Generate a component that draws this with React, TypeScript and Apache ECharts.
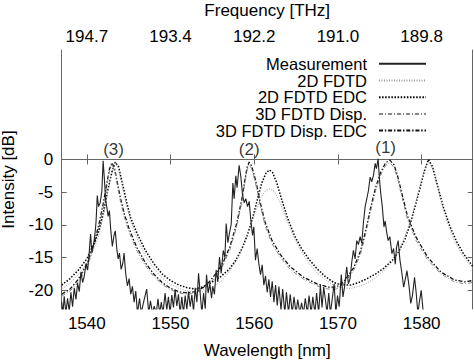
import React, { useEffect, useRef } from "react";
import * as echarts from "echarts";

const seriesNames = [
  "Measurement",
  "2D FDTD",
  "2D FDTD EDC",
  "3D FDTD Disp.",
  "3D FDTD Disp. EDC",
];

const wavelengthTicks = [1540, 1550, 1560, 1570, 1580];
const frequencyLabels = ["194.7", "193.4", "192.2", "191.0", "189.8"];
const intensityTicks = [-20, -15, -10, -5, 0];

const peakLabels = [
  { name: "(3)", value: [1543.2, 1.6] },
  { name: "(2)", value: [1559.4, 1.6] },
  { name: "(1)", value: [1575.7, 1.8] },
];

const measurement = [
  [1537.0, -21.8], [1537.15, -23.5], [1537.3, -20.9], [1537.5, -23.5], [1537.7, -21.2],
  [1537.9, -23.2], [1538.1, -20.3], [1538.3, -22.5], [1538.5, -19.6], [1538.7, -21.4],
  [1538.9, -18.9], [1539.1, -20.2], [1539.3, -17.2], [1539.5, -18.8], [1539.7, -17.8],
  [1539.9, -15.9], [1540.1, -16.9], [1540.3, -14.0], [1540.45, -11.4], [1540.6, -14.2],
  [1540.8, -13.1], [1541.0, -11.0], [1541.1, -9.6], [1541.25, -5.5], [1541.4, -7.2],
  [1541.6, -6.6], [1541.8, -4.8], [1541.95, -0.2], [1542.1, -3.0], [1542.25, -6.2],
  [1542.4, -7.4], [1542.55, -8.7], [1542.7, -7.8], [1542.85, -10.6], [1543.05, -13.3],
  [1543.25, -11.6], [1543.4, -10.9], [1543.6, -13.9], [1543.75, -15.2], [1543.9, -14.3],
  [1544.1, -16.8], [1544.3, -15.9], [1544.45, -14.3], [1544.65, -17.5], [1544.85, -19.3],
  [1545.05, -18.2], [1545.25, -20.6], [1545.45, -19.4], [1545.65, -21.8], [1545.85, -20.1],
  [1546.05, -23.5], [1546.3, -21.2], [1546.5, -23.5], [1546.75, -22.0], [1547.15, -19.8],
  [1547.4, -23.5], [1547.6, -21.6], [1547.85, -23.5], [1548.05, -22.4], [1548.3, -23.5],
  [1548.5, -21.3], [1548.7, -23.5], [1548.9, -21.8], [1549.1, -23.5], [1549.35, -20.4],
  [1549.55, -23.0], [1549.75, -21.0], [1549.95, -23.5], [1550.15, -20.7], [1550.35, -22.6],
  [1550.55, -19.9], [1550.75, -22.4], [1550.95, -20.6], [1551.15, -23.5], [1551.35, -21.0],
  [1551.55, -23.5], [1551.75, -20.8], [1551.95, -22.9], [1552.15, -20.2], [1552.35, -22.5],
  [1552.55, -20.7], [1552.75, -23.2], [1552.95, -19.6], [1553.15, -21.8], [1553.35, -17.4],
  [1553.55, -20.6], [1553.75, -23.5], [1553.95, -20.4], [1554.15, -22.8], [1554.3, -17.6],
  [1554.5, -20.4], [1554.7, -19.0], [1554.9, -21.2], [1555.05, -19.4], [1555.25, -20.6],
  [1555.45, -16.9], [1555.65, -18.7], [1555.85, -14.9], [1556.05, -17.4], [1556.3, -13.9],
  [1556.5, -15.0], [1556.65, -9.8], [1556.85, -12.7], [1557.05, -11.2], [1557.25, -9.9],
  [1557.45, -3.6], [1557.6, -6.0], [1557.8, -2.5], [1557.95, -4.3], [1558.2, -0.9],
  [1558.4, -2.6], [1558.6, -5.4], [1558.8, -6.6], [1559.0, -6.0], [1559.2, -7.2],
  [1559.4, -6.4], [1559.6, -9.4], [1559.8, -11.6], [1559.95, -10.3], [1560.15, -15.4],
  [1560.35, -13.6], [1560.55, -15.9], [1560.75, -17.6], [1560.95, -16.1], [1561.15, -19.2],
  [1561.35, -17.8], [1561.55, -20.3], [1561.75, -18.3], [1561.95, -21.0], [1562.15, -18.6],
  [1562.35, -21.8], [1562.55, -19.2], [1562.75, -22.3], [1562.95, -19.4], [1563.2, -23.0],
  [1563.4, -19.8], [1563.65, -23.5], [1563.85, -20.3], [1564.1, -23.5], [1564.3, -20.6],
  [1564.55, -23.5], [1564.75, -21.0], [1565.0, -23.5], [1565.2, -21.4], [1565.45, -23.5],
  [1565.65, -21.9], [1565.9, -23.5], [1566.1, -21.2], [1566.35, -23.5], [1566.55, -20.8],
  [1566.8, -23.5], [1567.0, -21.0], [1567.25, -23.5], [1567.45, -20.4], [1567.7, -23.5],
  [1567.9, -19.2], [1568.1, -22.6], [1568.3, -19.5], [1568.5, -21.4], [1568.7, -23.5],
  [1568.9, -20.4], [1569.1, -23.5], [1569.35, -21.0], [1569.55, -19.0], [1569.75, -23.5],
  [1569.95, -20.8], [1570.15, -22.5], [1570.4, -17.6], [1570.6, -21.0], [1570.8, -19.4],
  [1571.05, -16.4], [1571.25, -19.0], [1571.45, -18.2], [1571.65, -15.7], [1571.85, -13.9],
  [1572.05, -15.2], [1572.25, -12.4], [1572.45, -13.0], [1572.65, -11.8], [1572.85, -12.8],
  [1573.05, -9.6], [1573.25, -7.2], [1573.45, -6.0], [1573.65, -4.7], [1573.85, -2.7],
  [1574.05, -3.4], [1574.25, -2.4], [1574.45, -0.6], [1574.6, -1.4], [1574.8, 0.1],
  [1574.95, -2.8], [1575.1, -5.0], [1575.3, -7.2], [1575.5, -10.3], [1575.65, -9.4],
  [1575.8, -10.9], [1576.0, -12.4], [1576.2, -11.8], [1576.45, -14.4], [1576.65, -13.6],
  [1576.85, -16.0], [1577.0, -13.4], [1577.2, -12.4], [1577.4, -15.3], [1577.6, -17.0],
  [1577.85, -19.5], [1578.05, -18.3], [1578.25, -17.0], [1578.5, -19.4], [1578.7, -22.0],
  [1578.9, -20.8], [1579.15, -18.0], [1579.35, -20.4], [1579.55, -23.5], [1579.75, -21.6],
  [1579.95, -20.0], [1580.15, -22.8], [1580.3, -23.5],
];

const fdtd2d = [
  [1537.0, -19.8], [1538.0, -18.9], [1539.0, -17.6], [1540.0, -15.9], [1541.0, -13.2],
  [1541.5, -11.3], [1542.0, -8.6], [1542.5, -5.0], [1543.0, -2.0], [1543.35, -0.6],
  [1543.7, -1.2], [1544.1, -3.3], [1544.6, -6.3], [1545.2, -9.3], [1546.0, -12.0],
  [1547.0, -14.7], [1548.0, -16.7], [1549.0, -18.1], [1550.0, -19.1], [1551.0, -19.7],
  [1552.0, -20.1], [1553.0, -20.3], [1554.0, -20.2], [1555.0, -19.6], [1556.0, -18.6],
  [1557.0, -17.2], [1558.0, -15.2], [1558.8, -13.0], [1559.5, -10.5], [1560.2, -7.8],
  [1560.8, -5.8], [1561.4, -4.7], [1561.9, -4.5], [1562.4, -4.9], [1563.0, -6.3],
  [1563.7, -8.6], [1564.5, -11.2], [1565.5, -13.8], [1566.5, -15.8], [1567.5, -17.3],
  [1568.5, -18.4], [1569.5, -19.2], [1570.5, -19.6], [1571.5, -19.7], [1572.5, -19.4],
  [1573.5, -18.9], [1574.5, -18.1], [1575.5, -17.0], [1576.5, -15.6], [1577.3, -13.9],
  [1578.0, -11.8], [1578.7, -9.2], [1579.3, -6.5], [1579.9, -3.6], [1580.4, -1.3],
  [1580.85, -0.4], [1581.3, -1.4], [1581.8, -3.8], [1582.4, -6.8], [1583.1, -9.8],
  [1583.9, -12.4], [1584.8, -14.5], [1585.6, -15.9], [1586.2, -16.8],
];

const fdtd2dEdc = [
  [1537.0, -19.2], [1538.0, -18.2], [1539.0, -16.9], [1540.0, -15.2], [1541.0, -12.4],
  [1541.5, -10.6], [1542.0, -8.0], [1542.5, -4.7], [1543.0, -1.9], [1543.4, -0.4],
  [1543.8, -1.1], [1544.2, -3.4], [1544.7, -6.2], [1545.2, -8.8], [1546.0, -11.3],
  [1547.0, -13.9], [1548.0, -15.9], [1549.0, -17.5], [1550.0, -18.5], [1551.0, -19.2],
  [1552.0, -19.6], [1553.0, -19.8], [1554.0, -19.4], [1555.0, -18.7], [1556.0, -17.9],
  [1557.0, -16.8], [1557.8, -15.4], [1558.5, -13.7], [1559.2, -11.5], [1559.8, -9.0],
  [1560.4, -6.0], [1560.9, -3.6], [1561.4, -2.1], [1561.8, -1.6], [1562.2, -2.0],
  [1562.7, -3.6], [1563.3, -6.2], [1564.0, -9.0], [1564.8, -11.6], [1565.6, -13.5],
  [1566.5, -15.2], [1567.5, -16.7], [1568.5, -17.9], [1569.5, -18.8], [1570.5, -19.2],
  [1571.5, -19.2], [1572.5, -18.8], [1573.5, -18.2], [1574.5, -17.5], [1575.5, -16.6],
  [1576.5, -15.4], [1577.3, -14.0], [1578.0, -12.2], [1578.6, -10.0], [1579.2, -7.3],
  [1579.8, -4.4], [1580.3, -1.9], [1580.8, 0.0], [1581.3, -1.1], [1581.9, -4.0],
  [1582.6, -7.3], [1583.4, -10.3], [1584.2, -12.6], [1585.0, -14.4], [1585.8, -15.8],
  [1586.2, -16.5],
];

const fdtd3dDisp = [
  [1537.0, -20.9], [1538.0, -20.1], [1539.0, -18.7], [1540.0, -16.5], [1540.5, -14.8],
  [1541.0, -12.7], [1541.5, -10.1], [1542.0, -7.0], [1542.4, -4.0], [1542.7, -1.9],
  [1543.0, -0.8], [1543.3, -1.6], [1543.6, -3.6], [1544.0, -6.3], [1544.5, -8.9],
  [1545.0, -10.9], [1545.5, -12.5], [1546.0, -14.0], [1547.0, -16.2], [1548.0, -17.9],
  [1549.0, -19.1], [1550.0, -19.9], [1551.0, -20.4], [1552.0, -20.6], [1553.0, -20.4],
  [1554.0, -19.8], [1554.7, -19.0], [1555.5, -17.7], [1556.3, -16.1], [1557.1, -13.8],
  [1557.9, -10.3], [1558.5, -6.7], [1558.9, -3.5], [1559.15, -1.6], [1559.4, -0.8],
  [1559.65, -1.3], [1559.9, -2.4], [1560.3, -4.4], [1560.7, -7.0], [1561.3, -10.1],
  [1562.1, -12.8], [1563.1, -14.9], [1564.3, -16.8], [1565.9, -18.3], [1567.5, -19.3],
  [1568.8, -19.8], [1569.8, -19.8], [1570.7, -19.0], [1571.9, -16.9], [1572.7, -14.5],
  [1573.3, -11.5], [1573.9, -7.9], [1574.5, -4.8], [1575.1, -2.4], [1575.7, -0.9],
  [1576.2, -0.5], [1576.7, -1.2], [1577.1, -2.8], [1577.6, -5.5], [1578.3, -9.1],
  [1579.3, -12.3], [1580.7, -15.3], [1582.3, -17.5], [1583.9, -18.7], [1585.1, -19.0],
  [1586.1, -18.8],
];

const fdtd3dDispEdc = [
  [1537.0, -20.6], [1538.0, -19.8], [1539.0, -18.3], [1540.0, -16.0], [1540.5, -14.3],
  [1541.0, -12.2], [1541.5, -9.6], [1542.0, -6.5], [1542.4, -3.6], [1542.7, -1.5],
  [1543.0, -0.5], [1543.3, -1.3], [1543.6, -3.2], [1544.0, -5.8], [1544.5, -8.4],
  [1545.0, -10.4], [1545.5, -12.0], [1546.0, -13.5], [1547.0, -15.8], [1548.0, -17.5],
  [1549.0, -18.8], [1550.0, -19.7], [1551.0, -20.2], [1552.0, -20.4], [1553.0, -20.2],
  [1554.0, -19.5], [1554.7, -18.6], [1555.5, -17.3], [1556.3, -15.7], [1557.1, -13.3],
  [1557.9, -9.8], [1558.5, -6.2], [1558.9, -3.0], [1559.15, -1.2], [1559.4, -0.4],
  [1559.65, -0.9], [1559.9, -1.9], [1560.3, -3.9], [1560.7, -6.5], [1561.3, -9.6],
  [1562.1, -12.3], [1563.1, -14.5], [1564.3, -16.4], [1565.9, -18.0], [1567.5, -19.0],
  [1568.8, -19.5], [1569.8, -19.5], [1570.7, -18.7], [1571.9, -16.5], [1572.7, -14.0],
  [1573.3, -11.0], [1573.9, -7.4], [1574.5, -4.3], [1575.1, -2.0], [1575.7, -0.5],
  [1576.2, -0.1], [1576.7, -0.8], [1577.1, -2.4], [1577.6, -5.0], [1578.3, -8.6],
  [1579.3, -11.8], [1580.7, -14.9], [1582.3, -17.2], [1583.9, -18.4], [1585.1, -18.7],
  [1586.1, -18.5],
];

const FONT = "'Liberation Sans', Arial, Helvetica, sans-serif";
const AXIS_COLOR = "#666";
const X_MIN = 1537.0;
const X_MAX = 1586.1;
const Y_MIN = -22.85;
const Y_MAX = 16.73;

export default function App() {
  const ref = useRef<HTMLDivElement>(null);

  useEffect(() => {
    document.body.style.margin = "0";
    if (!ref.current) return;
    const chart = echarts.init(ref.current, null, { renderer: "svg" });

    const styles = [
      { color: "#222", width: 1.1, type: "solid" as any },
      { color: "#9a9a9a", width: 1, type: [1, 1.5] },
      { color: "#000", width: 1.5, type: [1.5, 1.6] },
      { color: "#888", width: 1, type: [4, 2, 1, 2] },
      { color: "#111", width: 1.3, type: [4, 1.8, 1.5, 1.8] },
    ];
    const datasets = [measurement, fdtd2d, fdtd2dEdc, fdtd3dDisp, fdtd3dDispEdc];

    const lineSeries = seriesNames.map((name, i) => ({
      name,
      type: "line",
      data: datasets[i],
      showSymbol: false,
      symbol: "none",
      clip: true,
      z: 10 - i,
      lineStyle: styles[i],
      itemStyle: { color: styles[i].color },
    }));

    const legends = seriesNames.map((name, i) => ({
      data: [name],
      orient: "vertical",
      align: "right",
      right: 47,
      top: 63.3 + 16.7 * i - 8,
      padding: 0,
      itemWidth: 47,
      itemHeight: 12,
      selectedMode: false,
      itemStyle: { color: "rgba(0,0,0,0)", borderColor: "rgba(0,0,0,0)", borderWidth: 0, opacity: 0 },
      textStyle: {
        fontFamily: FONT,
        fontSize: 16.5,
        color: "#000",
        padding: [0, 7, 0, 0],
        lineHeight: 15,
      },
    }));

    const axisText = { fontFamily: FONT, fontSize: 17, color: "#000" };

    chart.setOption({
      animation: false,
      backgroundColor: "#fff",
      textStyle: { fontFamily: FONT },
      legend: legends,
      grid: {
        left: 61.7,
        right: 1.3,
        top: 50,
        bottom: 52,
        containLabel: false,
        outerBoundsMode: "none",
      },
      xAxis: [
        {
          type: "value",
          position: "bottom",
          min: X_MIN,
          max: X_MAX,
          name: "Wavelength [nm]",
          nameLocation: "middle",
          nameGap: 33,
          nameTextStyle: axisText,
          axisLine: { show: true, lineStyle: { color: AXIS_COLOR, width: 1 } },
          axisTick: { show: true, inside: true, length: 5, customValues: wavelengthTicks, lineStyle: { color: AXIS_COLOR } },
          axisLabel: {
            show: true,
            margin: 6,
            customValues: wavelengthTicks,
            formatter: (v: number) => String(Math.round(v)),
            ...axisText,
          },
          splitLine: { show: false },
        },
        {
          type: "value",
          position: "top",
          min: X_MIN,
          max: X_MAX,
          name: "Frequency [THz]",
          nameLocation: "middle",
          nameGap: 31,
          nameTextStyle: axisText,
          axisLine: { show: true, lineStyle: { color: AXIS_COLOR, width: 1 } },
          axisTick: { show: true, inside: true, length: 5, customValues: wavelengthTicks, lineStyle: { color: AXIS_COLOR } },
          axisLabel: {
            show: true,
            margin: 5,
            customValues: wavelengthTicks,
            formatter: (v: number) => {
              const idx = wavelengthTicks.findIndex((t) => Math.abs(t - v) < 1e-6);
              return idx >= 0 ? frequencyLabels[idx] : "";
            },
            ...axisText,
          },
          splitLine: { show: false },
        },
      ],
      yAxis: [
        {
          type: "value",
          position: "left",
          min: Y_MIN,
          max: Y_MAX,
          name: "Intensity [dB]",
          nameLocation: "middle",
          nameGap: 45,
          nameTextStyle: axisText,
          axisLine: { show: true, lineStyle: { color: AXIS_COLOR, width: 1 } },
          axisTick: { show: true, inside: true, length: 5, customValues: intensityTicks, lineStyle: { color: AXIS_COLOR } },
          axisLabel: { show: true, margin: 8.5, customValues: intensityTicks, ...axisText },
          splitLine: { show: false },
        },
        {
          type: "value",
          position: "right",
          min: Y_MIN,
          max: Y_MAX,
          axisLine: { show: true, lineStyle: { color: AXIS_COLOR, width: 1 } },
          axisTick: { show: true, inside: true, length: 5, customValues: intensityTicks, lineStyle: { color: AXIS_COLOR } },
          axisLabel: { show: false },
          splitLine: { show: false },
        },
      ],
      series: [
        ...lineSeries,
        {
          name: "peaks",
          type: "scatter",
          data: peakLabels,
          symbolSize: 1,
          itemStyle: { color: "rgba(0,0,0,0)" },
          silent: true,
          label: {
            show: true,
            position: "inside",
            align: "center",
            verticalAlign: "middle",
            formatter: "{b}",
            ...axisText,
          },
        },
      ],
    });

    return () => chart.dispose();
  }, []);

  return <div ref={ref} style={{ width: 474, height: 361 }} />;
}
